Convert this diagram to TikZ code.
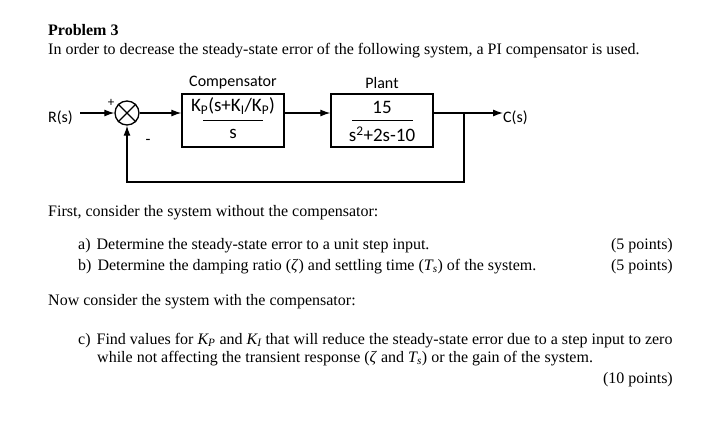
\documentclass[tikz,border=0pt]{standalone}
\usepackage{fontspec}
\setmainfont{Liberation Serif}
\newfontfamily\dia{Carlito}
\usetikzlibrary{arrows.meta}
\begin{document}
\begin{tikzpicture}[x=1pt,y=-1pt,
  txt/.style={anchor=base west,inner sep=0,font=\fontsize{16}{18}\selectfont},
  blk/.style={draw,line width=1.3pt,minimum width=102pt,minimum height=53pt,inner sep=0},
  lbl/.style={font=\dia\fontsize{16}{18}\selectfont,inner sep=0},
  wire/.style={line width=1.2pt,-{Latex[length=10pt,width=7pt]}}]
\useasboundingbox (0,0) rectangle (712,434);
\node[txt,font=\bfseries\fontsize{16}{18}\selectfont] (t1) at (48,35) {Problem 3};
\node[txt] (t2) at (48,54) {In order to decrease the steady-state error of the following system, a PI compensator is used.};
\node[draw,line width=1.3pt,circle,minimum size=24pt,inner sep=0] (sum) at (127,113) {};
\draw[line width=1.3pt] (sum.north west)--(sum.south east) (sum.north east)--(sum.south west);
\node[blk] (comp) at (233,120.5) {};
\node[blk] (plant) at (382,120.5) {};
\node[lbl] (cl) at (233,83) {Compensator};
\node[lbl] (pl) at (382,83) {Plant};
\node[lbl,font=\dia\fontsize{19}{20}\selectfont] (cn) at (233,106) {K\textsubscript{P}(s+K\textsubscript{I}/K\textsubscript{P})};
\draw[line width=1pt] (203,120) -- (263,120);
\node[lbl,font=\dia\fontsize{19}{20}\selectfont] (cd) at (233,134) {s};
\node[lbl,font=\dia\fontsize{19}{20}\selectfont] (pn) at (382,107) {15};
\draw[line width=1pt] (352,120) -- (413,120);
\node[lbl,font=\dia\fontsize{19}{20}\selectfont] (pd) at (382,134) {s\textsuperscript{2}+2s-10};
\node[lbl,anchor=west] (R) at (48,118) {R(s)};
\node[lbl,anchor=west] (C) at (503,118) {C(s)};
\node[lbl,font=\dia\fontsize{13}{14}\selectfont] (plus) at (111,103) {+};
\node[lbl] (minus) at (148,142) {-};
\draw[wire] (80,113) -- (sum.west);
\draw[wire] (sum.east) -- (comp.west |- sum);
\draw[wire] (comp.east |- sum) -- (plant.west |- sum);
\draw[wire] (plant.east |- sum) -- (C.west |- sum);
\coordinate (tap) at (464,113);
\draw[wire] (tap) -- (464,182) -- (127,182) -- (sum.south);
\node[txt] (f) at (48,216) {First, consider the system without the compensator:};
\node[txt] (a) at (78,249) {a)\hspace{6pt}Determine the steady-state error to a unit step input.};
\node[txt] (b) at (78,270) {b)\hspace{6pt}Determine the damping ratio (\textit{ζ}) and settling time (\textit{T\textsubscript{s}}) of the system.};
\node[txt,anchor=base east] (ap) at (673,249) {(5 points)};
\node[txt,anchor=base east] (bp) at (673,270) {(5 points)};
\node[txt] (n) at (48,305) {Now consider the system with the compensator:};
\node[txt] (c) at (78,344) {c)\hspace{6pt}Find values for \textit{K\textsubscript{P}} and \textit{K\textsubscript{I}} that will reduce the steady-state error due to a step input to zero};
\node[txt] (c2) at (97,362) {while not affecting the transient response (\textit{ζ} and \textit{T\textsubscript{s}}) or the gain of the system.};
\node[txt,anchor=base east] (cp) at (673,383) {(10 points)};
\end{tikzpicture}
\end{document}
